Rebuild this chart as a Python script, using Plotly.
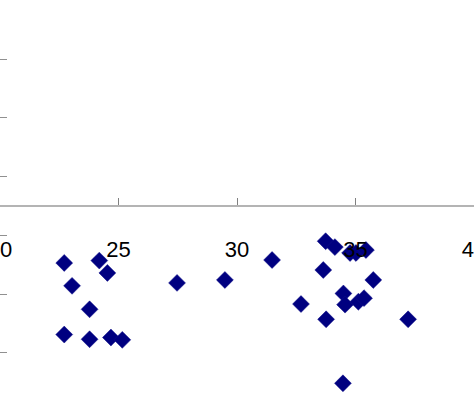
import plotly.graph_objects as go

# Data
x_vals = [22.71, 24.19, 24.53, 23.04, 23.78, 22.71, 23.78, 24.68, 25.16,
          27.47, 29.49, 31.48, 32.70,
          33.74, 34.13, 34.77, 35.02, 35.44, 33.64, 35.75,
          34.49, 34.56, 35.12, 35.36, 33.76, 37.22, 34.47]
y_vals = [-0.97, -0.93, -1.14, -1.36, -1.76, -2.19, -2.27, -2.24, -2.28,
          -1.31, -1.26, -0.92, -1.67,
          -0.60, -0.70, -0.80, -0.80, -0.75, -1.09, -1.26,
          -1.49, -1.68, -1.63, -1.57, -1.93, -1.93, -3.02]

x_ticks = [20, 25, 30, 35, 40]
x_tick_text = ["20", "25", "30", "35", "40"]
y_ticks = [-2.5, -1.5, -0.5, 0.5, 1.5, 2.5]

fig = go.Figure()
fig.add_trace(go.Scatter(
    x=x_vals, y=y_vals, mode="markers",
    marker=dict(symbol="diamond", size=13, color="#000080",
                line=dict(color="#10108a", width=0.5)),
    showlegend=False, hoverinfo="skip",
))

fig.update_layout(
    template="none",
    width=474, height=413,
    margin=dict(l=0, r=0, t=0, b=0),
    paper_bgcolor="white", plot_bgcolor="white",
    font=dict(family="Liberation Sans, Arial, sans-serif", color="black"),
    xaxis=dict(
        range=[20, 40], tickvals=x_ticks, ticktext=x_tick_text,
        ticks="inside", ticklen=7, tickwidth=1, tickcolor="#808080",
        showline=True, linecolor="#b4b4b4", linewidth=2,
        showgrid=False, zeroline=False,
        anchor="free", position=0.5012,
        tickfont=dict(size=22, color="black"),
        ticklabelstandoff=24,
        ticklabeloverflow="allow",
        automargin=False,
    ),
    yaxis=dict(
        range=[-3.526, 3.509], tickvals=y_ticks,
        ticks="inside", ticklen=7, tickwidth=1, tickcolor="#909090",
        showline=False, showgrid=False, zeroline=False,
        showticklabels=False, automargin=False,
    ),
)

fig.write_html(
    "out.html",
    config={"displayModeBar": False},
    post_script="document.body.style.margin='0';document.body.style.overflow='hidden';",
)
